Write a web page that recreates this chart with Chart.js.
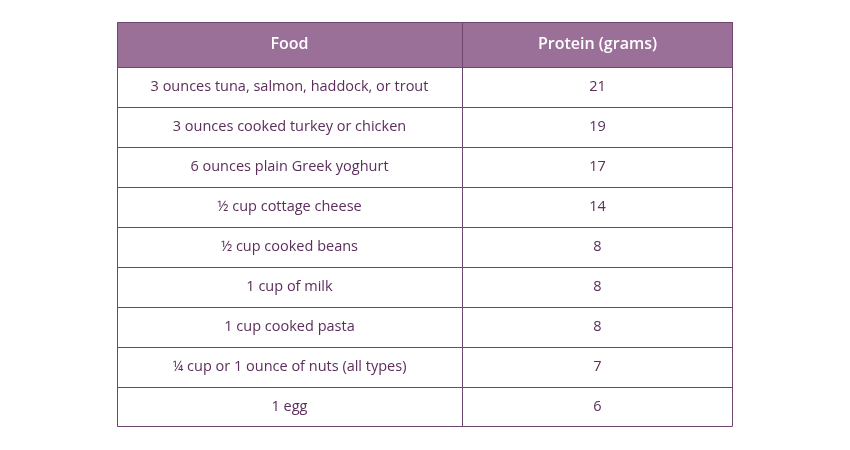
<!DOCTYPE html>
<html><head><meta charset="utf-8">
<script src="https://cdn.jsdelivr.net/npm/chart.js@4/dist/chart.umd.min.js"></script>
<style>html,body{margin:0;padding:0;background:#fff}</style>
</head><body>
<canvas id="c" width="850" height="450"></canvas>
<script>
const headers = ["Food", "Protein (grams)"];
const foods = ["3 ounces tuna, salmon, haddock, or trout","3 ounces cooked turkey or chicken","6 ounces plain Greek yoghurt","½ cup cottage cheese","½ cup cooked beans","1 cup of milk","1 cup cooked pasta","¼ cup or 1 ounce of nuts (all types)","1 egg"];
const protein = [21,19,17,14,8,8,8,7,6];

const tablePlugin = {
  id: 'table',
  afterDraw(chart) {
    const ctx = chart.ctx, a = chart.chartArea, y = chart.scales.y;
    const divX = 462, headTop = 22;
    const border = '#6e4670';
    ctx.save();
    // header
    ctx.fillStyle = '#9a7099';
    ctx.fillRect(a.left, headTop, a.right - a.left, a.top - headTop);
    ctx.textAlign = 'center'; ctx.textBaseline = 'middle';
    ctx.fillStyle = '#ffffff';
    ctx.font = '600 16px "Open Sans", sans-serif';
    const hy = (headTop + a.top) / 2;
    ctx.fillText(headers[0], (a.left + divX) / 2, hy);
    ctx.fillText(headers[1], (divX + a.right) / 2, hy);
    // rows
    ctx.font = '14.5px "Open Sans", sans-serif';
    ctx.fillStyle = '#5b2e5b';
    foods.forEach((f, i) => {
      const cy = y.getPixelForValue(i);
      ctx.fillText(f, (a.left + divX) / 2, cy);
      ctx.fillText(String(protein[i]), (divX + a.right) / 2, cy);
    });
    // grid
    ctx.strokeStyle = border; ctx.lineWidth = 1;
    const band = (a.bottom - a.top) / foods.length;
    ctx.beginPath();
    ctx.rect(a.left + 0.5, headTop + 0.5, a.right - a.left - 1, a.bottom - headTop - 1);
    for (let i = 0; i < foods.length; i++) {
      const ly = Math.round(y.getPixelForValue(i) - band / 2) + 0.5;
      ctx.moveTo(a.left, ly); ctx.lineTo(a.right, ly);
    }
    ctx.moveTo(divX + 0.5, headTop); ctx.lineTo(divX + 0.5, a.bottom);
    ctx.stroke();
    ctx.restore();
  }
};

new Chart(document.getElementById('c'), {
  type: 'bar',
  data: { labels: foods, datasets: [{ data: protein, backgroundColor: 'rgba(0,0,0,0)' }] },
  options: {
    indexAxis: 'y', responsive: false, animation: false,
    layout: { padding: { left: 117, right: 117, top: 67, bottom: 23 } },
    plugins: { legend: { display: false }, tooltip: { enabled: false } },
    scales: { x: { display: false }, y: { display: false } }
  },
  plugins: [tablePlugin]
});
</script>
</body></html>
